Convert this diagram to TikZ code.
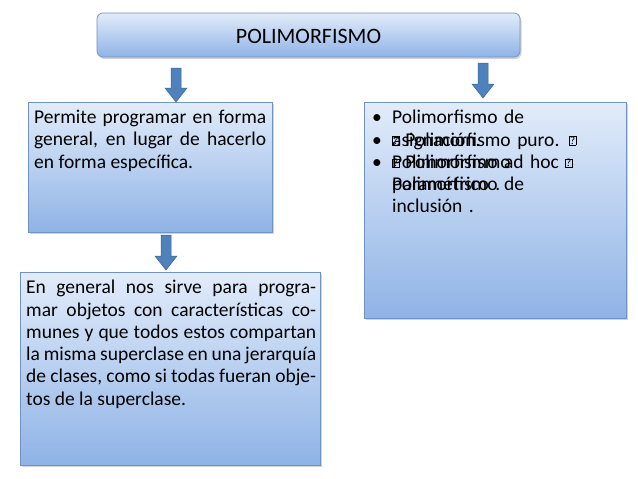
\documentclass[tikz,border=0pt]{standalone}
\usepackage{fontspec}
\setmainfont{Carlito}
\usetikzlibrary{shadows}
\definecolor{topc}{HTML}{E2ECFA}
\definecolor{botc}{HTML}{8FB3E6}
\definecolor{edgec}{HTML}{7093C6}
\definecolor{arrc}{HTML}{4F81BD}
\definecolor{arre}{HTML}{3A6597}
\newcommand{\qbx}{{\setlength{\fboxsep}{0.4pt}\setlength{\fboxrule}{0.4pt}\raisebox{1.5pt}{\fbox{\fontsize{11}{11}\selectfont ?}}}}
\newcommand{\itm}[1]{\noindent\makebox[22pt][l]{\hspace{2pt}\textbullet}\parbox[t]{232pt}{\lineskiplimit=-100pt\raggedright #1}\par}
\tikzset{
 boxc/.style={draw=edgec, line width=0.7pt, top color=topc, bottom color=botc, drop shadow={shadow xshift=1.5pt, shadow yshift=-2pt, opacity=0.35}},
 barrow/.style={fill=arrc, draw=arre, line width=0.5pt},
 bigf/.style={font=\fontsize{19.5}{22.3}\selectfont}
}
\newcommand{\blockarrow}[3]{%
 \filldraw[barrow] (#1-5,-#2) -- (#1+5,-#2) -- (#1+5,-#3+14) -- (#1+11,-#3+14) -- (#1,-#3) -- (#1-11,-#3+14) -- (#1-5,-#3+14) -- cycle;}
\begin{document}
\begin{tikzpicture}[x=1pt,y=1pt]
\useasboundingbox[fill=white] (0,0) rectangle (638,-479);
\draw[boxc, rounded corners=6pt] (97,-13) rectangle (520,-57);
\node[font=\fontsize{22}{24}\selectfont] (top) at (308.5,-36) {POLIMORFISMO};
\draw[boxc] (28,-102) rectangle (272,-232);
\node[bigf, anchor=north west, text width=232pt, align=justify, inner sep=0pt] (a) at (34,-110)
 {Permite programar en forma general, en lugar de hacerlo en forma específica.};
\draw[boxc] (20,-272) rectangle (320,-465);
\node[bigf, anchor=north west, text width=290pt, align=justify, inner sep=0pt] (b) at (26,-280)
 {En general nos sirve para programar objetos con características comunes y que todos estos compartan la misma superclase en una jerarquía de clases, como si todas fueran objetos de la superclase.};
\draw[boxc] (364,-102) rectangle (626,-318);
\node[bigf, anchor=north west, text width=254pt, align=left, inner sep=0pt] (c) at (370,-110)
 {\lineskiplimit=-100pt\itm{Polimorfismo de\\asignación.}\itm{\qbx{} Polimorfismo puro. \qbx\\Polimorfismo ad hoc \qbx\\Polimorfismo de\\inclusión .}\itm{\qbx{} Polimorfismo\\paramétrico .}};
\blockarrow{176}{68}{102}
\blockarrow{483}{63}{98}
\blockarrow{166}{235}{270}
\end{tikzpicture}
\end{document}
